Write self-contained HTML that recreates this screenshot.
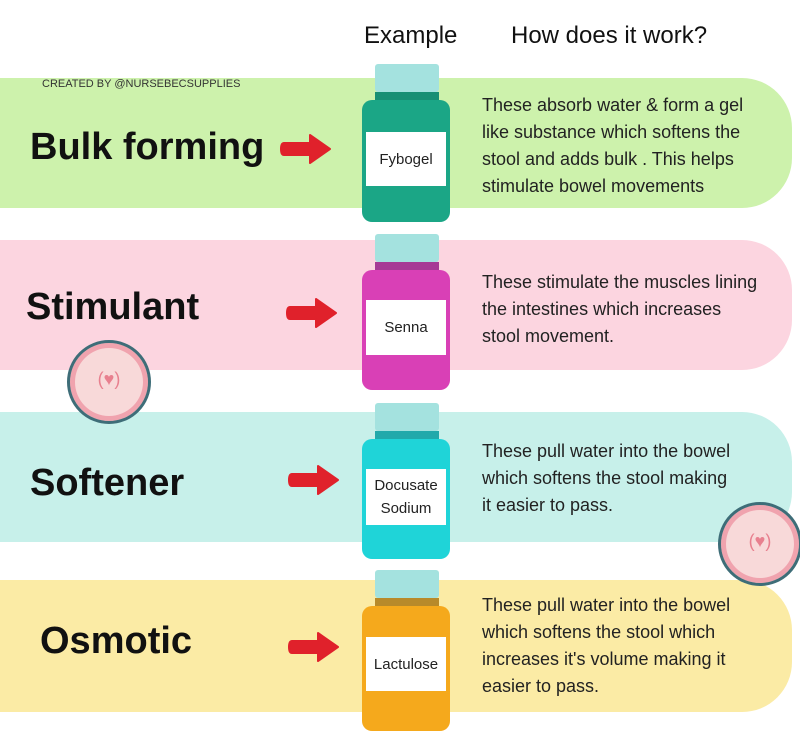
<!DOCTYPE html>
<html><head><meta charset="utf-8"><style>
body{margin:0;width:800px;height:726px;background:#fff;position:relative;overflow:hidden;font-family:"Liberation Sans",sans-serif}
.band{position:absolute;left:0;width:792px;border-radius:0 50px 50px 0}
.title{position:absolute;font-weight:bold;font-size:38px;color:#111;letter-spacing:0px}
.arrow{position:absolute;width:52px;height:32px}
.desc{position:absolute;left:482px;font-size:18px;line-height:27px;color:#222;white-space:nowrap}
.cap{position:absolute;left:375px;width:64px;height:28px;background:#a4e2df;border-radius:3px}
.neck{position:absolute;left:375px;width:64px;height:8px}
.body{position:absolute;left:362px;width:88px;border-radius:10px}
.lbl{position:absolute;left:366px;width:80px;background:#fff;font-size:15px;text-align:center;color:#222;display:flex;align-items:center;justify-content:center;line-height:23px}
.logo{position:absolute;width:78px;height:78px;border-radius:50%;background:#f8d9d9;border:3px solid #3e6d78;box-shadow:inset 0 0 0 5px #f0a3ae}
.logo span{position:absolute;left:0;right:0;top:26px;text-align:center;color:#e8808f;font-size:18px}
</style></head><body>
<div style="position:absolute;left:364px;top:22px;font-size:24px;color:#111">Example</div>
<div style="position:absolute;left:511px;top:22px;font-size:24px;color:#111">How does it work?</div>

<div class="band" style="top:78px;height:130px;background:#cdf2ac"></div>
<div class="band" style="top:240px;height:130px;background:#fcd5e0"></div>
<div class="band" style="top:412px;height:130px;background:#c7f0ea"></div>
<div class="band" style="top:580px;height:132px;background:#fbeba5"></div>

<div style="position:absolute;left:42px;top:78px;font-size:11px;color:#333">CREATED BY @NURSEBECSUPPLIES</div>

<div class="title" style="left:30px;top:126px">Bulk forming</div>
<div class="title" style="left:26px;top:286px">Stimulant</div>
<div class="title" style="left:30px;top:462px">Softener</div>
<div class="title" style="left:40px;top:620px">Osmotic</div>

<svg class="arrow" style="left:280px;top:133px" viewBox="0 0 52 32"><path d="M4 10 H30 V2 L50 16 L30 30 V22 H4 Q1 22 1 16 Q1 10 4 10 Z" fill="#e0212b" stroke="#e0212b" stroke-width="2" stroke-linejoin="round"/></svg>
<svg class="arrow" style="left:286px;top:297px" viewBox="0 0 52 32"><path d="M4 10 H30 V2 L50 16 L30 30 V22 H4 Q1 22 1 16 Q1 10 4 10 Z" fill="#e0212b" stroke="#e0212b" stroke-width="2" stroke-linejoin="round"/></svg>
<svg class="arrow" style="left:288px;top:464px" viewBox="0 0 52 32"><path d="M4 10 H30 V2 L50 16 L30 30 V22 H4 Q1 22 1 16 Q1 10 4 10 Z" fill="#e0212b" stroke="#e0212b" stroke-width="2" stroke-linejoin="round"/></svg>
<svg class="arrow" style="left:288px;top:631px" viewBox="0 0 52 32"><path d="M4 10 H30 V2 L50 16 L30 30 V22 H4 Q1 22 1 16 Q1 10 4 10 Z" fill="#e0212b" stroke="#e0212b" stroke-width="2" stroke-linejoin="round"/></svg>

<div class="cap" style="top:64px"></div><div class="neck" style="top:92px;background:#178f74"></div>
<div class="body" style="top:100px;height:122px;background:#1ba686"></div>
<div class="lbl" style="top:132px;height:54px">Fybogel</div>

<div class="cap" style="top:234px"></div><div class="neck" style="top:262px;background:#a63a95"></div>
<div class="body" style="top:270px;height:120px;background:#d940b6"></div>
<div class="lbl" style="top:300px;height:55px">Senna</div>

<div class="cap" style="top:403px"></div><div class="neck" style="top:431px;background:#21a9ab"></div>
<div class="body" style="top:439px;height:120px;background:#1fd4d8"></div>
<div class="lbl" style="top:469px;height:56px">Docusate<br>Sodium</div>

<div class="cap" style="top:570px"></div><div class="neck" style="top:598px;background:#b88a2a"></div>
<div class="body" style="top:606px;height:125px;background:#f5a91c"></div>
<div class="lbl" style="top:637px;height:54px">Lactulose</div>

<div class="desc" style="top:92px">These absorb water &amp; form a gel<br>like substance which softens the<br>stool and adds bulk . This helps<br>stimulate bowel movements</div>
<div class="desc" style="top:269px">These stimulate the muscles lining<br>the intestines which increases<br>stool movement.</div>
<div class="desc" style="top:438px">These pull water into the bowel<br>which softens the stool making<br>it easier to pass.</div>
<div class="desc" style="top:592px">These pull water into the bowel<br>which softens the stool which<br>increases it's volume making it<br>easier to pass.</div>

<div class="logo" style="left:67px;top:340px"><span>(♥)</span></div>
<div class="logo" style="left:718px;top:502px"><span>(♥)</span></div>
</body></html>
